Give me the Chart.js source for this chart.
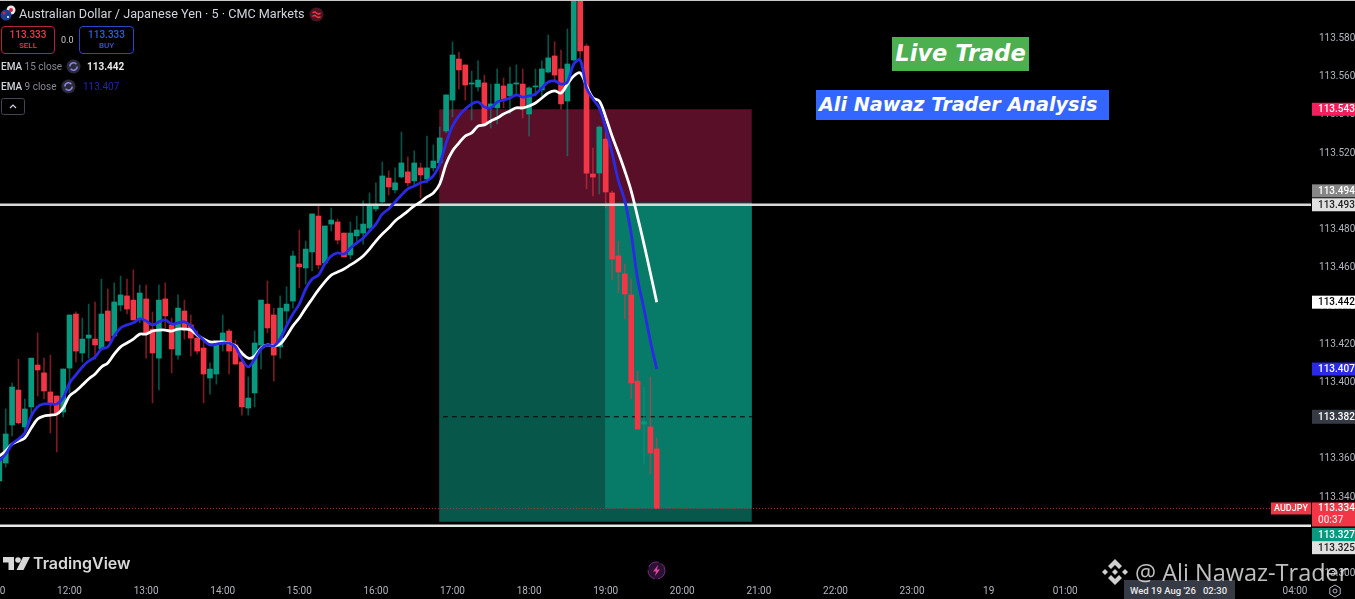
<!DOCTYPE html>
<html>
<head>
<meta charset="utf-8">
<title>AUDJPY 5</title>
<script src="https://cdn.jsdelivr.net/npm/chart.js@4"></script>
<style>
    html, body { margin: 0; padding: 0; background: #000; width: 1355px; height: 599px; overflow: hidden; }
    body { position: relative; font-family: Roboto, sans-serif; }
    canvas { position: absolute; left: 0; top: 0; }
    .abs { position: absolute; white-space: nowrap; }
    .orden { border-radius: 4px; box-sizing: border-box; width: 54px; height: 28px; text-align: center; font-size: 10px; line-height: 12px; padding-top: 2px; font-weight: 500; }
    .orden small { display: block; font-size: 8px; line-height: 10px; font-weight: 500; }
    .nota { color: #fff; font-family: "DejaVu Sans", sans-serif; font-style: italic; font-weight: 700; box-sizing: border-box; }
</style>
</head>
<body>
<canvas id="grafico" width="1355" height="599"></canvas>

<div class="abs" style="left:0;top:0;width:1355px;height:1px;background:#c8c8c8"></div>

<svg class="abs" style="left:0;top:5px" width="16" height="17" viewBox="0 0 16 17">
    <circle cx="11" cy="5" r="4.5" fill="#e8e8e8"/><circle cx="11" cy="5" r="2" fill="#d9213c"/>
    <circle cx="6" cy="10" r="5.5" fill="#1c3f94"/><circle cx="4" cy="8" r="1.5" fill="#d9213c"/><circle cx="8" cy="12" r="1" fill="#fff"/>
</svg>
<div class="abs" style="left:19px;top:6px;font-size:12.65px;line-height:16px;color:#d1d4dc">Australian Dollar / Japanese Yen · 5 · CMC Markets</div>
<svg class="abs" style="left:309px;top:7px" width="15" height="15" viewBox="0 0 15 15">
    <circle cx="7.5" cy="7.5" r="7" fill="#4a1420"/>
    <path d="M3.5 6 q2-2 4 0 t4 0 M3.5 9.5 q2-2 4 0 t4 0" stroke="#f23645" stroke-width="1.2" fill="none"/>
</svg>

<div class="abs orden" style="left:1px;top:26px;border:1px solid #b3263a;color:#f23645">113.333<small>SELL</small></div>
<div class="abs" style="left:61px;top:35px;font-size:9px;line-height:11px;color:#c8c8c8">0.0</div>
<div class="abs orden" style="left:79px;top:26px;width:55px;border:1px solid #2a45c8;color:#2f5ce0">113.333<small>BUY</small></div>

<div class="abs" style="left:1px;top:60px;font-size:10px;line-height:13px;color:#868993"><span style="color:#d1d4dc;font-weight:500">EMA</span> 15 close</div>
<svg class="abs" style="left:66px;top:59px" width="15" height="15" viewBox="0 0 15 15">
    <circle cx="7.5" cy="7.5" r="7" fill="#2a2a3a"/>
    <path d="M3.8 7.5 a3.7 3.7 0 0 1 6.6-2.3 M11.2 7.5 a3.7 3.7 0 0 1-6.6 2.3" stroke="#8f86e8" stroke-width="1.4" fill="none"/>
</svg>
<div class="abs" style="left:87px;top:60px;font-size:10px;line-height:13px;font-weight:700;color:#e8e8e8">113.442</div>

<div class="abs" style="left:1px;top:80px;font-size:10px;line-height:13px;color:#868993"><span style="color:#d1d4dc;font-weight:500">EMA</span> 9 close</div>
<svg class="abs" style="left:61px;top:79px" width="15" height="15" viewBox="0 0 15 15">
    <circle cx="7.5" cy="7.5" r="7" fill="#2a2a3a"/>
    <path d="M3.8 7.5 a3.7 3.7 0 0 1 6.6-2.3 M11.2 7.5 a3.7 3.7 0 0 1-6.6 2.3" stroke="#8f86e8" stroke-width="1.4" fill="none"/>
</svg>
<div class="abs" style="left:83px;top:80px;font-size:10px;line-height:13px;color:#2323b4">113.407</div>

<svg class="abs" style="left:1px;top:98px" width="24" height="17" viewBox="0 0 24 17">
    <rect x="0.5" y="0.5" width="23" height="16" rx="2" fill="none" stroke="#434651"/>
    <path d="M9 10 l3-3 l3 3" stroke="#d1d4dc" stroke-width="1.2" fill="none"/>
</svg>

<div class="abs nota" style="left:892px;top:37px;width:137px;height:34px;background:#4caf50;font-size:22.5px;line-height:33px;text-align:center">Live Trade</div>
<div class="abs nota" style="left:816px;top:90px;width:293px;height:30px;background:#3366ff;font-size:19.2px;line-height:29px;padding-left:3px">Ali Nawaz Trader Analysis</div>

<svg class="abs" style="left:3px;top:556px" width="28" height="15" viewBox="0 0 28 15">
    <path d="M0 1 H11 V14 H5.5 V6.5 H0 Z" fill="#d8d8d8"/>
    <circle cx="15" cy="4" r="2.8" fill="#d8d8d8"/>
    <path d="M20 1 H27 L20.5 14 H13.5 Z" fill="#d8d8d8"/>
</svg>
<div class="abs" style="left:33px;top:553px;font-family:Inter,sans-serif;font-size:16px;line-height:20px;font-weight:600;color:#d8d8d8">TradingView</div>

<svg class="abs" style="left:647px;top:561px" width="19" height="19" viewBox="0 0 19 19">
    <circle cx="9.5" cy="9.5" r="8.5" fill="#2a1230" stroke="#7a2a8a" stroke-dasharray="12 3"/>
    <path d="M11 4 L6 10.5 H9 L8 15 L13 8.5 H10 Z" fill="#e040a0"/>
</svg>

<div class="abs" style="left:1124px;top:580px;width:111px;height:19px;background:#363a45"></div>
<div class="abs" style="left:1130px;top:584px;font-size:9.5px;line-height:13px;font-weight:500;color:#e8e8e8">Wed 19 Aug '26&nbsp;&nbsp;&nbsp;02:30</div>

<svg class="abs" style="left:1101px;top:558px" width="28" height="28" viewBox="0 0 28 28">
    <g fill="#d0d0d0">
        <path d="M14 1 L21 8 L18 11 L14 7 L10 11 L7 8 Z"/>
        <path d="M14 27 L21 20 L18 17 L14 21 L10 17 L7 20 Z"/>
        <path d="M4 11 L7 14 L4 17 L1 14 Z"/>
        <path d="M24 11 L27 14 L24 17 L21 14 Z"/>
        <path d="M14 11 L17 14 L14 17 L11 14 Z"/>
    </g>
</svg>
<div class="abs" style="left:1135px;top:556px;font-family:'Open Sans',sans-serif;font-size:23.5px;line-height:32px;color:rgba(225,225,225,0.85)">@ Ali Nawaz-Trader</div>

<svg class="abs" style="left:1328px;top:584px" width="14" height="14" viewBox="0 0 14 14">
    <path d="M7 1 L12.2 4 V10 L7 13 L1.8 10 V4 Z" fill="none" stroke="#b2b5be"/>
    <circle cx="7" cy="7" r="2" fill="none" stroke="#b2b5be"/>
</svg>

<script>
// Velas AUDJPY 5 min, la primera vela es la 11:05
const aperturas = [
    113.3484, 113.3578, 113.3777, 113.3960, 113.3767, 113.3872, 113.4091, 113.4050, 113.3950, 113.3929,
    113.3845, 113.4075, 113.4358, 113.4154, 113.4232, 113.4227, 113.4175, 113.4374, 113.4243, 113.4405,
    113.4453, 113.4431, 113.4332, 113.4437, 113.4279, 113.4127, 113.4437, 113.4301, 113.4143, 113.4374,
    113.4301, 113.4232, 113.4180, 113.4023, 113.4044, 113.4201, 113.4269, 113.4196, 113.4107, 113.3866,
    113.3945, 113.4196, 113.4410, 113.4353, 113.4186, 113.4374, 113.4426, 113.4620, 113.4599, 113.4683,
    113.4871, 113.4625, 113.4829, 113.4840, 113.4782, 113.4667, 113.4767, 113.4782, 113.4808, 113.4908,
    113.4945, 113.5070, 113.5008, 113.5076, 113.5102, 113.5055, 113.5123, 113.5065, 113.5123, 113.5149,
    113.5316, 113.5478, 113.5693, 113.5662, 113.5562, 113.5547, 113.5568, 113.5442, 113.5437, 113.5552,
    113.5500, 113.5562, 113.5562, 113.5405, 113.5547, 113.5531, 113.5625, 113.5709, 113.5641, 113.5473,
    113.5688, 113.6049, 113.5761, 113.5091, 113.5096, 113.5274, 113.4992, 113.4662, 113.4568, 113.4458,
    113.4007, 113.3782, 113.3767, 113.3652
];
const maximos = [
    113.3641, 113.3861, 113.3997, 113.4122, 113.3913, 113.4127, 113.4259, 113.4127, 113.4143, 113.3929,
    113.4070, 113.4353, 113.4369, 113.4337, 113.4410, 113.4421, 113.4541, 113.4489, 113.4521, 113.4557,
    113.4541, 113.4589, 113.4510, 113.4510, 113.4369, 113.4510, 113.4521, 113.4337, 113.4458, 113.4431,
    113.4353, 113.4269, 113.4217, 113.4102, 113.4206, 113.4353, 113.4279, 113.4222, 113.4164, 113.4029,
    113.4269, 113.4431, 113.4531, 113.4389, 113.4453, 113.4500, 113.4688, 113.4798, 113.4740, 113.4882,
    113.4924, 113.4819, 113.4913, 113.4855, 113.4782, 113.4840, 113.4871, 113.4950, 113.4992, 113.5045,
    113.5154, 113.5107, 113.5123, 113.5311, 113.5180, 113.5212, 113.5149, 113.5290, 113.5243, 113.5337,
    113.5505, 113.5783, 113.5730, 113.5662, 113.5630, 113.5683, 113.5609, 113.5562, 113.5641, 113.5594,
    113.5651, 113.5662, 113.5641, 113.5547, 113.5641, 113.5683, 113.5819, 113.5783, 113.5740, 113.5850,
    113.6049, 113.6049, 113.5772, 113.5227, 113.5342, 113.5327, 113.5002, 113.4740, 113.4620, 113.4541,
    113.4060, 113.3976, 113.4029, 113.3709
];
const minimos = [
    113.3431, 113.3557, 113.3720, 113.3782, 113.3736, 113.3834, 113.3929, 113.3913, 113.3736, 113.3636,
    113.3819, 113.3945, 113.4107, 113.4107, 113.4127, 113.4122, 113.4175, 113.4217, 113.4243, 113.4374,
    113.4358, 113.4327, 113.4312, 113.4127, 113.3893, 113.3960, 113.4285, 113.4050, 113.4122, 113.4227,
    113.4138, 113.4148, 113.3893, 113.3939, 113.3991, 113.4164, 113.4044, 113.4096, 113.3829, 113.3829,
    113.3872, 113.4070, 113.4259, 113.4007, 113.4127, 113.4296, 113.4389, 113.4495, 113.4515, 113.4583,
    113.4594, 113.4620, 113.4793, 113.4724, 113.4657, 113.4646, 113.4724, 113.4724, 113.4793, 113.4897,
    113.4940, 113.4981, 113.4992, 113.5070, 113.5028, 113.5028, 113.4966, 113.5045, 113.5107, 113.5133,
    113.5306, 113.5390, 113.5536, 113.5478, 113.5374, 113.5526, 113.5348, 113.5332, 113.5353, 113.5437,
    113.5405, 113.5500, 113.5384, 113.5290, 113.5500, 113.5500, 113.5620, 113.5578, 113.5431, 113.5186,
    113.5683, 113.5698, 113.5013, 113.4976, 113.4987, 113.4913, 113.4536, 113.4468, 113.4332, 113.3913,
    113.3756, 113.3573, 113.3520, 113.3340
];
const cierres = [
    113.3604, 113.3730, 113.3976, 113.3788, 113.3861, 113.4127, 113.4065, 113.3955, 113.3893, 113.3834,
    113.4070, 113.4353, 113.4164, 113.4227, 113.4248, 113.4196, 113.4358, 113.4217, 113.4421, 113.4458,
    113.4384, 113.4327, 113.4468, 113.4259, 113.4154, 113.4431, 113.4348, 113.4175, 113.4389, 113.4285,
    113.4232, 113.4164, 113.4044, 113.4070, 113.4196, 113.4259, 113.4164, 113.4096, 113.3872, 113.3918,
    113.4206, 113.4431, 113.4285, 113.4143, 113.4389, 113.4410, 113.4662, 113.4605, 113.4698, 113.4882,
    113.4615, 113.4819, 113.4850, 113.4745, 113.4657, 113.4782, 113.4798, 113.4829, 113.4924, 113.4929,
    113.5081, 113.5023, 113.5045, 113.5149, 113.5045, 113.5149, 113.5086, 113.5123, 113.5159, 113.5280,
    113.5505, 113.5714, 113.5636, 113.5557, 113.5568, 113.5583, 113.5348, 113.5458, 113.5562, 113.5484,
    113.5562, 113.5568, 113.5431, 113.5542, 113.5552, 113.5641, 113.5699, 113.5609, 113.5458, 113.5667,
    113.6049, 113.5735, 113.5096, 113.5075, 113.5337, 113.4997, 113.4646, 113.4578, 113.4463, 113.3997,
    113.3756, 113.3793, 113.3630, 113.3340
];

// EMA, una por vela
const ema15 = [
    113.3615, 113.3641, 113.3677, 113.3693, 113.3709, 113.3761, 113.3808, 113.3824, 113.3829, 113.3834,
    113.3866, 113.3929, 113.3955, 113.3986, 113.4018, 113.4044, 113.4081, 113.4102, 113.4148, 113.4186,
    113.4206, 113.4227, 113.4253, 113.4253, 113.4269, 113.4274, 113.4274, 113.4269, 113.4279, 113.4279,
    113.4274, 113.4248, 113.4227, 113.4212, 113.4212, 113.4212, 113.4206, 113.4191, 113.4154, 113.4127,
    113.4138, 113.4180, 113.4196, 113.4191, 113.4201, 113.4243, 113.4296, 113.4337, 113.4389, 113.4437,
    113.4484, 113.4526, 113.4562, 113.4578, 113.4594, 113.4615, 113.4636, 113.4662, 113.4698, 113.4740,
    113.4777, 113.4808, 113.4845, 113.4871, 113.4897, 113.4924, 113.4945, 113.4971, 113.4992, 113.5039,
    113.5144, 113.5212, 113.5253, 113.5290, 113.5306, 113.5342, 113.5348, 113.5369, 113.5384, 113.5405,
    113.5421, 113.5437, 113.5437, 113.5447, 113.5463, 113.5489, 113.5515, 113.5526, 113.5515, 113.5562,
    113.5604, 113.5620, 113.5552, 113.5489, 113.5473, 113.5390, 113.5290, 113.5201, 113.5107, 113.5002,
    113.4866, 113.4724, 113.4573, 113.4420
];
const ema9 = [
    113.3588, 113.3625, 113.3677, 113.3704, 113.3736, 113.3824, 113.3872, 113.3887, 113.3887, 113.3887,
    113.3918, 113.3997, 113.4039, 113.4081, 113.4112, 113.4133, 113.4175, 113.4186, 113.4243, 113.4285,
    113.4301, 113.4312, 113.4332, 113.4322, 113.4301, 113.4317, 113.4327, 113.4306, 113.4312, 113.4317,
    113.4296, 113.4253, 113.4222, 113.4196, 113.4201, 113.4206, 113.4206, 113.4186, 113.4122, 113.4081,
    113.4122, 113.4175, 113.4196, 113.4191, 113.4227, 113.4296, 113.4358, 113.4410, 113.4489, 113.4541,
    113.4562, 113.4620, 113.4662, 113.4678, 113.4672, 113.4704, 113.4730, 113.4756, 113.4793, 113.4829,
    113.4882, 113.4908, 113.4945, 113.4981, 113.5013, 113.5028, 113.5045, 113.5055, 113.5081, 113.5144,
    113.5253, 113.5342, 113.5395, 113.5431, 113.5458, 113.5468, 113.5442, 113.5437, 113.5468, 113.5478,
    113.5489, 113.5505, 113.5494, 113.5500, 113.5510, 113.5542, 113.5573, 113.5578, 113.5562, 113.5573,
    113.5667, 113.5688, 113.5542, 113.5484, 113.5437, 113.5332, 113.5201, 113.5055, 113.4950, 113.4777,
    113.4541, 113.4384, 113.4217, 113.4070
];
const indiceVelas = aperturas.map((_, n) => n - 1);

// Ejes
const ticksPrecio = [113.30, 113.32, 113.34, 113.36, 113.38, 113.40, 113.42, 113.44, 113.46, 113.48, 113.50, 113.52, 113.54, 113.56, 113.58];
const ticksTiempo = [-2, 10, 22, 34, 46, 58, 70, 82, 94, 106, 118, 130, 142, 154, 166, 178, 190, 202];
const etiquetasTiempo = ['11:00', '12:00', '13:00', '14:00', '15:00', '16:00', '17:00', '18:00', '19:00', '20:00', '21:00', '22:00', '23:00', '19', '01:00', '02:00', '03:00', '04:00'];
const rangoX = [-0.893, 204.5];
const rangoY = [113.2976, 113.6002];

// Posicion corta
const stopPrecio = 113.543;
const entradaPrecio = 113.494;
const objetivoPrecio = 113.327;
const lineaEntrada = 113.493;
const lineaSoporte = 113.325;
const ultimoPrecio = 113.334;
const mediaPrecio = 113.382;
const cajaVelas = [67.9, 116.9];
const cajaActivaVelas = [93.9, 116.9];

// Etiquetas de la escala de precios: precio, texto, fondo, color y desplazamiento
const etiquetasPrecio = [
    { valor: 113.543, texto: '113.543', fondo: '#f0205c', color: '#ffffff', alto: 13, mover: 0 },
    { valor: 113.494, texto: '113.494', fondo: '#868686', color: '#ffffff', alto: 13, mover: -12 },
    { valor: 113.493, texto: '113.493', fondo: '#e0e0e0', color: '#202020', alto: 13, mover: 0 },
    { valor: 113.442, texto: '113.442', fondo: '#ffffff', color: '#000000', alto: 13, mover: 0 },
    { valor: 113.407, texto: '113.407', fondo: '#2a2ae6', color: '#ffffff', alto: 13, mover: 0 },
    { valor: 113.382, texto: '113.382', fondo: '#363a45', color: '#ffffff', alto: 14, mover: 0 },
    { valor: 113.327, texto: '113.327', fondo: '#089981', color: '#ffffff', alto: 14, mover: 13 },
    { valor: 113.325, texto: '113.325', fondo: '#e0e0e0', color: '#202020', alto: 13, mover: 22 }
];

function lineaHorizontal(precio, color, ancho, guiones, desde, hasta, orden) {
    return {
        type: 'line',
        data: [{ x: desde, y: precio }, { x: hasta, y: precio }],
        borderColor: color,
        borderWidth: ancho,
        borderDash: guiones,
        pointRadius: 0,
        order: orden
    };
}

function caja(arriba, abajo, desde, hasta, color, orden) {
    return {
        type: 'line',
        data: [{ x: desde, y: arriba }, { x: hasta, y: arriba }],
        borderWidth: 0,
        backgroundColor: color,
        fill: { value: abajo },
        pointRadius: 0,
        order: orden
    };
}

function lineaEma(valores, color) {
    return {
        type: 'line',
        data: valores.map((v, n) => ({ x: indiceVelas[n], y: v })),
        borderColor: color,
        borderWidth: 2.8,
        tension: 0.35,
        pointRadius: 0,
        order: 1
    };
}

// Etiquetas de color encima de la escala
const pluginEtiquetas = {
    id: 'etiquetas',
    afterDraw(chart) {
        const { ctx, scales: { y } } = chart;
        const izq = chart.chartArea.right + 1;
        ctx.save();
        ctx.font = '500 10px Roboto';
        ctx.textBaseline = 'middle';
        etiquetasPrecio.forEach(e => {
            const py = y.getPixelForValue(e.valor) + e.mover;
            ctx.fillStyle = e.fondo;
            ctx.fillRect(izq, py - e.alto / 2, 1355 - izq, e.alto);
            ctx.fillStyle = e.color;
            ctx.fillText(e.texto, izq + 6, py + 0.5);
        });
        // Ultimo precio con la cuenta atras y el simbolo
        const py = y.getPixelForValue(ultimoPrecio);
        ctx.fillStyle = '#f23645';
        ctx.fillRect(izq, py - 6, 1355 - izq, 24);
        ctx.fillRect(izq - 41, py - 6, 40, 12);
        ctx.fillStyle = '#ffffff';
        ctx.fillText('113.334', izq + 6, py + 0.5);
        ctx.fillStyle = '#ffd5d9';
        ctx.fillText('00:37', izq + 6, py + 12);
        ctx.fillStyle = '#ffffff';
        ctx.font = '500 9px Roboto';
        ctx.fillText('AUDJPY', izq - 38, py + 0.5);
        ctx.restore();
    }
};

new Chart(document.getElementById('grafico').getContext('2d'), {
    type: 'bar',
    data: {
        datasets: [
            caja(stopPrecio, entradaPrecio, cajaVelas[0], cajaVelas[1], '#5a0f28', 20),
            caja(entradaPrecio, objetivoPrecio, cajaVelas[0], cajaVelas[1], '#07584b', 19),
            caja(entradaPrecio, ultimoPrecio, cajaActivaVelas[0], cajaActivaVelas[1], '#087a68', 18),
            lineaHorizontal(mediaPrecio, '#000000', 1, [5, 4], 68.5, cajaVelas[1], 17),
            {
                // mechas
                data: indiceVelas.map((x, n) => ({ x: x, y: [minimos[n], maximos[n]] })),
                backgroundColor: indiceVelas.map((_, n) => cierres[n] >= aperturas[n] ? 'rgba(8,153,129,0.55)' : 'rgba(242,54,69,0.5)'),
                barThickness: 1,
                grouped: false,
                order: 6
            },
            {
                // cuerpos
                data: indiceVelas.map((x, n) => ({ x: x, y: [aperturas[n], cierres[n]] })),
                backgroundColor: indiceVelas.map((_, n) => cierres[n] >= aperturas[n] ? '#089981' : '#f23645'),
                barThickness: 5,
                minBarLength: 1,
                grouped: false,
                order: 5
            },
            lineaHorizontal(lineaEntrada, '#d8d8d8', 2.5, [], rangoX[0], rangoX[1], 4),
            lineaHorizontal(lineaSoporte, '#e8e8e8', 2.5, [], rangoX[0], rangoX[1], 4),
            lineaHorizontal(ultimoPrecio, '#a8323f', 1, [1, 2], rangoX[0], rangoX[1], 4),
            lineaEma(ema9, '#2a2ae6'),
            lineaEma(ema15, '#ffffff')
        ]
    },
    options: {
        responsive: false,
        animation: false,
        events: [],
        layout: { padding: 0 },
        plugins: { legend: { display: false }, tooltip: { enabled: false } },
        scales: {
            x: {
                type: 'linear',
                offset: false,
                min: rangoX[0],
                max: rangoX[1],
                grid: { display: false, drawTicks: false },
                border: { display: false },
                afterBuildTicks: escala => { escala.ticks = ticksTiempo.map(v => ({ value: v })); },
                afterFit: escala => { escala.height = 21; escala.paddingLeft = 0; escala.paddingRight = 0; },
                ticks: {
                    autoSkip: false,
                    maxRotation: 0,
                    padding: 7,
                    color: '#b2b5be',
                    font: { family: 'Roboto', size: 10 },
                    callback: v => etiquetasTiempo[ticksTiempo.indexOf(v)]
                }
            },
            y: {
                position: 'right',
                min: rangoY[0],
                max: rangoY[1],
                grid: { display: false, drawTicks: false },
                border: { display: false },
                afterBuildTicks: escala => { escala.ticks = ticksPrecio.map(v => ({ value: v })); },
                afterFit: escala => { escala.width = 44; escala.paddingTop = 0; escala.paddingBottom = 0; },
                ticks: {
                    autoSkip: false,
                    padding: 8,
                    color: '#b2b5be',
                    font: { family: 'Roboto', size: 10 },
                    callback: v => v.toFixed(3)
                }
            }
        }
    },
    plugins: [pluginEtiquetas]
});
</script>
</body>
</html>
